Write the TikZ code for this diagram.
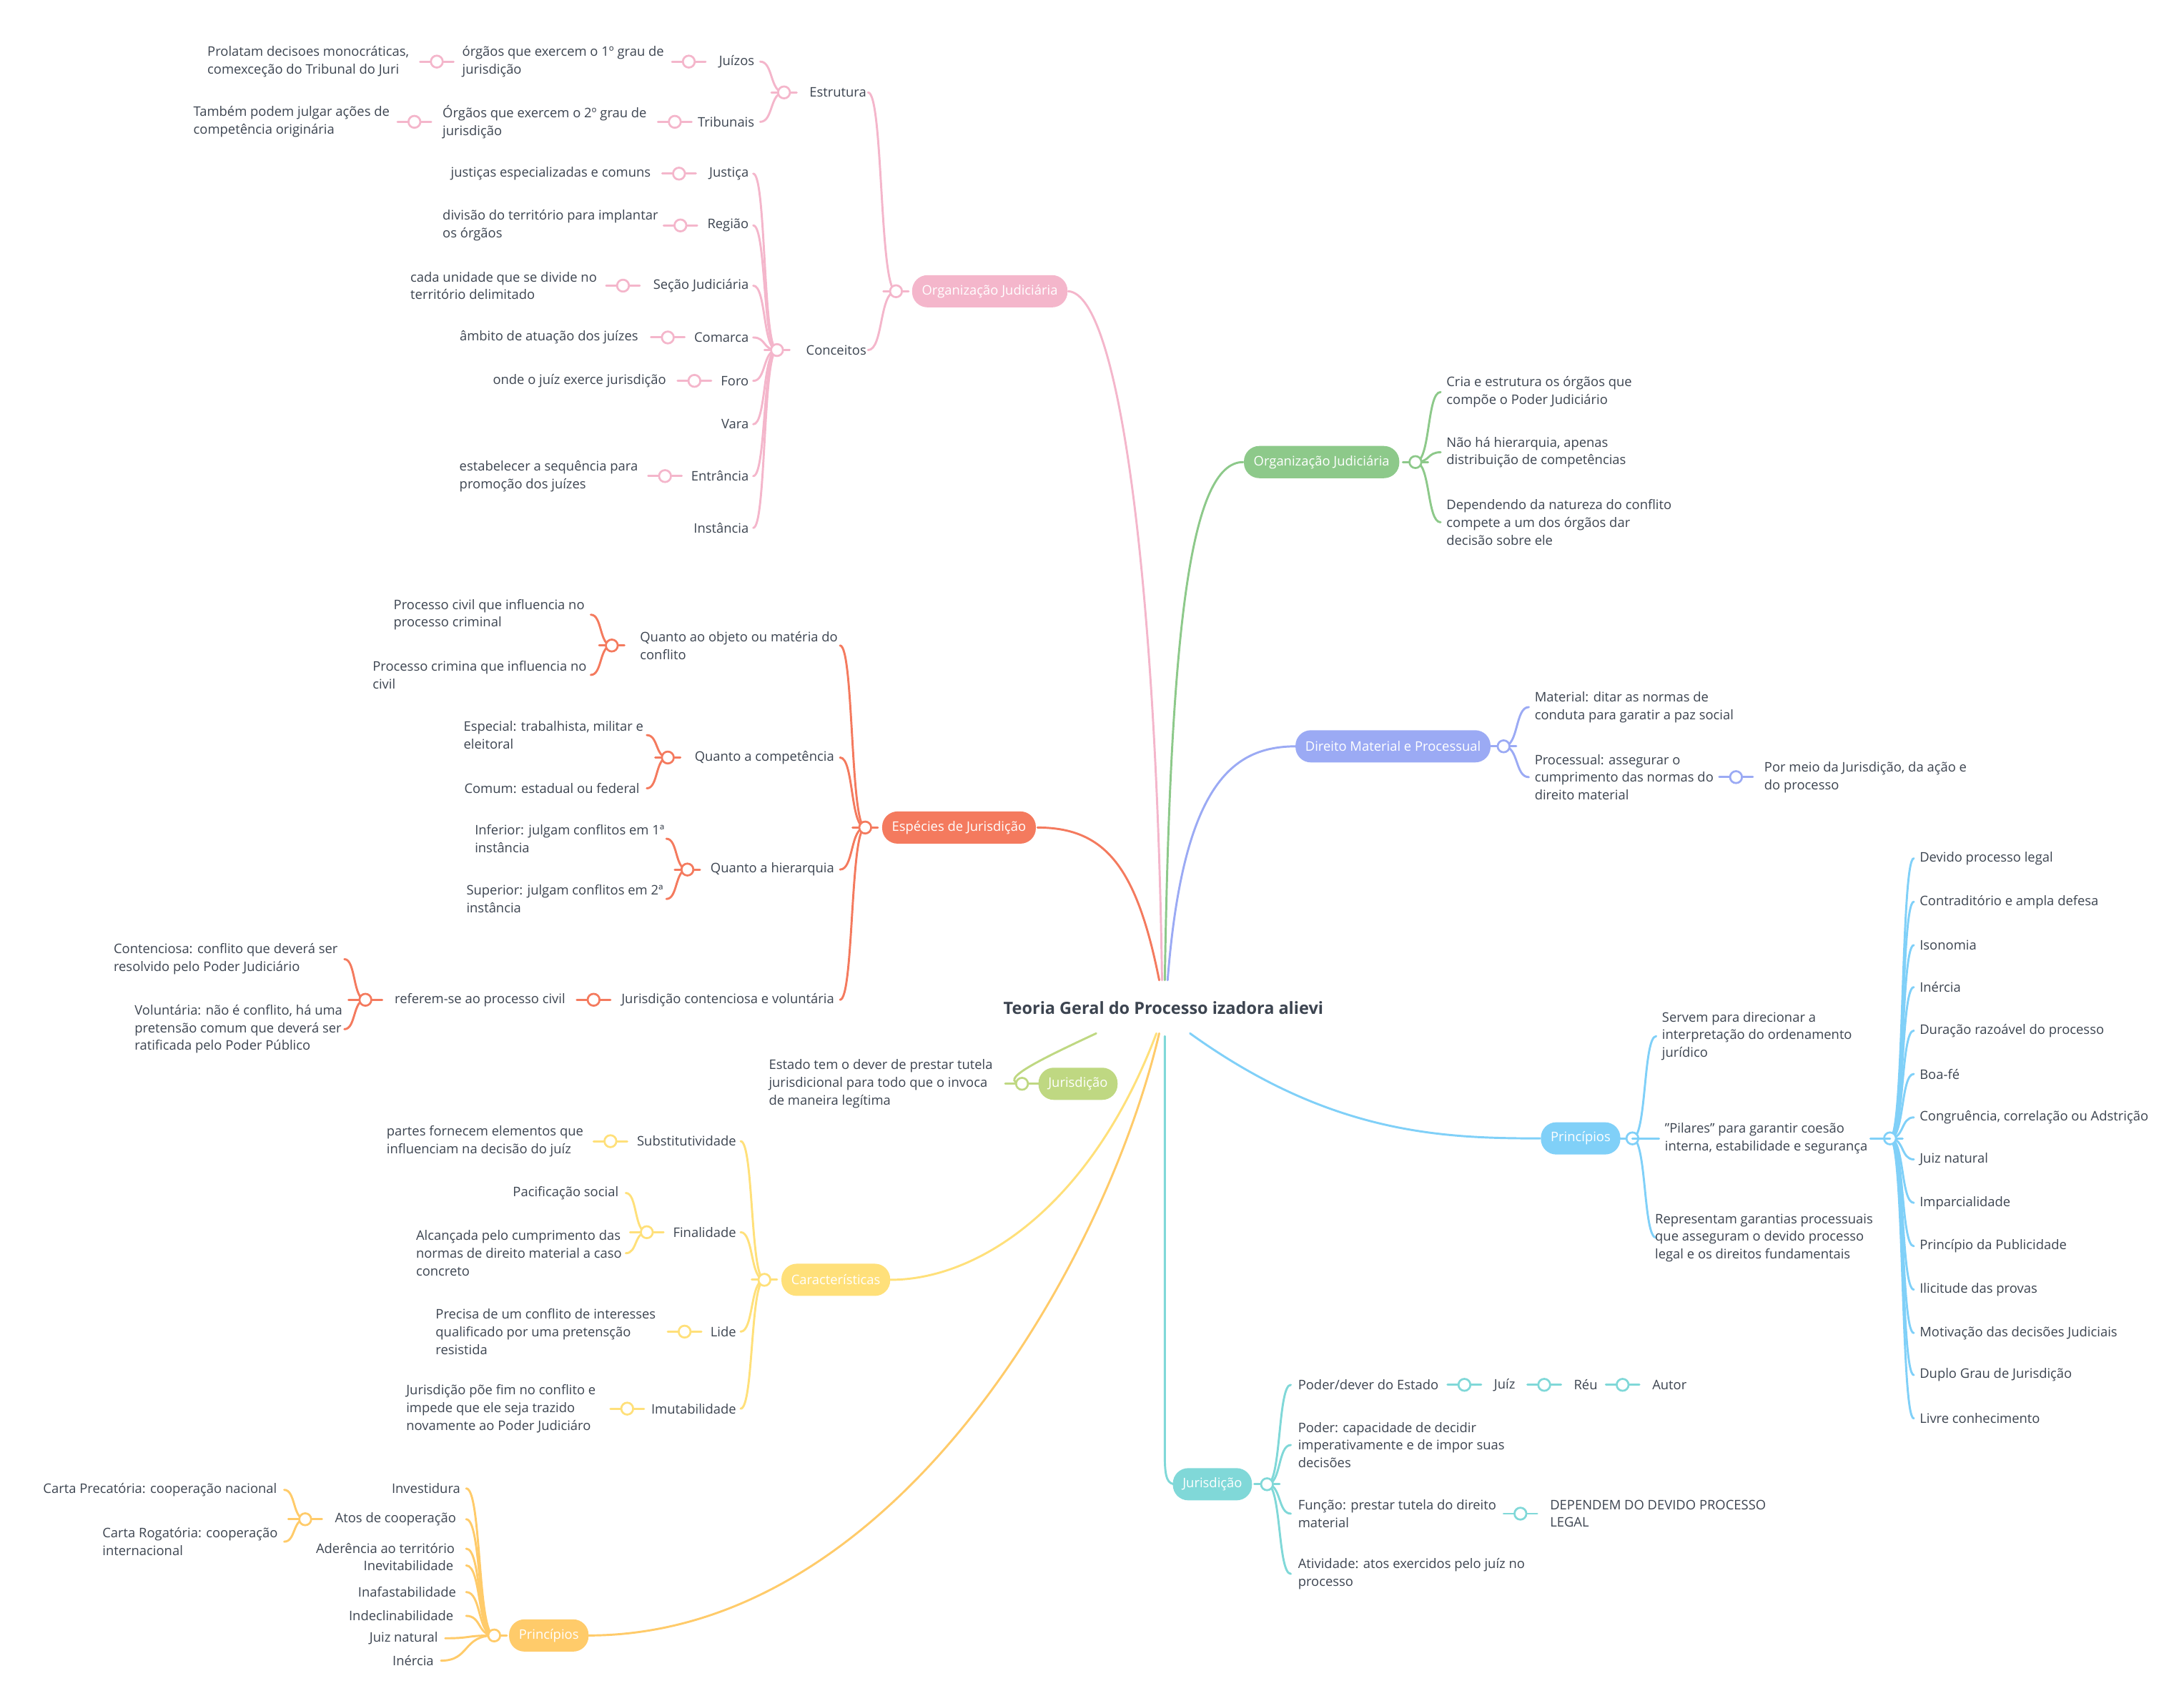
\documentclass[tikz,border=0pt]{standalone}
\usepackage{fontspec}
\setmainfont{Open Sans}
\definecolor{txtc}{HTML}{3C4450}
\definecolor{pinkc}{HTML}{F4B6CB}
\definecolor{greenc}{HTML}{8DC98A}
\definecolor{violetc}{HTML}{9BAAF4}
\definecolor{bluec}{HTML}{80D0F8}
\definecolor{tealc}{HTML}{80D8D8}
\definecolor{redc}{HTML}{F47A5E}
\definecolor{limec}{HTML}{BFD882}
\definecolor{yellowc}{HTML}{FFE07A}
\definecolor{orangec}{HTML}{FFCB6A}
\newcommand{\jc}[3]{\node[circle,draw=#1,fill=white,line width=1.4,inner sep=0,minimum size=8.5] at (#2,#3) {};}
\newcommand{\seg}[3]{\draw[#1,conn] (#2-12,#3)--(#2+12,#3); \jc{#1}{#2}{#3}}
\newcommand{\kid}[5]{\draw[#1,conn] (#2,#3) .. controls ({#2+(#4-#2)*0.6},#3) and ({#2+(#4-#2)*0.45},#5) .. (#4,#5);}
\newcommand{\junc}[3]{\draw[#1,conn] (#2-9,#3)--(#2+9,#3); \jc{#1}{#2}{#3}}
\begin{document}
\begin{tikzpicture}[x=1pt,y=-1pt,
  every node/.style={text=txtc,font=\fontsize{9.4}{12.6}\selectfont,inner sep=1pt},
  conn/.style={line width=1.5,line cap=round},
  lt/.style={anchor=west,align=left},
  rt/.style={anchor=east,align=right},
  pill/.style={rounded corners=11,minimum height=23,inner xsep=7,text=white,font=\fontsize{9.4}{11}\selectfont}]
\useasboundingbox (0,0) rectangle (1560,1218);
\node[font=\bfseries\fontsize{12}{14}\selectfont] (root) at (831,720) {Teoria Geral do Processo izadora alievi};
% ===== main connectors
\draw[pinkc,conn] (830,700) .. controls (826,420) and (800,210) .. (763,208);
\draw[greenc,conn] (832,700) .. controls (836,450) and (850,330) .. (888,330);
\draw[violetc,conn] (834,700) .. controls (845,560) and (880,533) .. (926,533);
\draw[redc,conn] (828,700) .. controls (812,620) and (790,591) .. (741,591);
\draw[bluec,conn] (850,738) .. controls (950,810) and (1030,813) .. (1100,813);
\draw[tealc,conn] (832,740) -- (832,1040) .. controls (832,1056) and (834,1060) .. (840,1060);
\draw[limec,conn] (783,738) .. controls (740,758) and (712,772) .. (730,774);
\draw[yellowc,conn] (826,738) .. controls (780,860) and (700,914) .. (636,914);
\draw[orangec,conn] (828,738) .. controls (790,900) and (640,1168) .. (420,1168);
% ===== PINK
\kid{pinkc}{640}{208}{620}{66}
\kid{pinkc}{640}{208}{620}{250}
\junc{pinkc}{640}{208}
\node[pill,fill=pinkc] (oj1) at (707,208) {Organização Judiciária};
\node[rt] (estr) at (620,66) {Estrutura};
\node[rt] (conc) at (620,250) {Conceitos};
\kid{pinkc}{560}{66}{543}{44}
\kid{pinkc}{560}{66}{543}{87}
\junc{pinkc}{560}{66}
\node[rt] (juizos) at (540,44) {Juízos};
\node[rt] (trib) at (540,87) {Tribunais};
\seg{pinkc}{492}{44}\seg{pinkc}{312}{44}
\seg{pinkc}{482}{87}\seg{pinkc}{296}{87}
\node[lt] at (329,44) {órgãos que exercem o 1º grau de\\jurisdição};
\node[lt] at (147,44) {Prolatam decisoes monocráticas,\\comexceção do Tribunal do Juri};
\node[lt] at (315,87) {Órgãos que exercem o 2º grau de\\jurisdição};
\node[lt] at (137,87) {Também podem julgar ações de\\competência originária};
\foreach \y in {124,161,204,241,272,303,340,377}{\kid{pinkc}{555}{250}{538}{\y}}
\junc{pinkc}{555}{250}
\node[rt] at (536,124) {Justiça};
\node[rt] at (536,161) {Região};
\node[rt] at (536,204) {Seção Judiciária};
\node[rt] at (536,241) {Comarca};
\node[rt] at (536,272) {Foro};
\node[rt] at (536,303) {Vara};
\node[rt] at (536,340) {Entrância};
\node[rt] at (536,377) {Instância};
\seg{pinkc}{485}{124}\node[rt] at (466,124) {justiças especializadas e comuns};
\seg{pinkc}{486}{161}\node[lt] at (315,161) {divisão do território para implantar\\os órgãos};
\seg{pinkc}{445}{204}\node[lt] at (292,204) {cada unidade que se divide no\\território delimitado};
\seg{pinkc}{477}{241}\node[rt] at (457,241) {âmbito de atuação dos juízes};
\seg{pinkc}{496}{272}\node[rt] at (477,272) {onde o juíz exerce jurisdição};
\seg{pinkc}{475}{340}\node[lt] at (327,340) {estabelecer a sequência para\\promoção dos juízes};
% ===== GREEN
\node[pill,fill=greenc] (oj2) at (944,330) {Organização Judiciária};
\kid{greenc}{1011}{330}{1029}{280}
\kid{greenc}{1011}{330}{1029}{323}
\kid{greenc}{1011}{330}{1029}{373}
\junc{greenc}{1011}{330}
\node[lt] at (1032,280) {Cria e estrutura os órgãos que\\compõe o Poder Judiciário};
\node[lt] at (1032,323) {Não há hierarquia, apenas\\distribuição de competências};
\node[lt] at (1032,373) {Dependendo da natureza do conflito\\compete a um dos órgãos dar\\decisão sobre ele};
% ===== VIOLET
\node[pill,fill=violetc] (dmp) at (995,533) {Direito Material e Processual};
\kid{violetc}{1074}{533}{1092}{505}
\kid{violetc}{1074}{533}{1092}{555}
\junc{violetc}{1074}{533}
\node[lt] at (1095,505) {Material: ditar as normas de\\conduta para garatir a paz social};
\node[lt] at (1095,555) {Processual: assegurar o\\cumprimento das normas do\\direito material};
\seg{violetc}{1240}{555}
\node[lt] at (1259,555) {Por meio da Jurisdição, da ação e\\do processo};
% ===== BLUE
\node[pill,fill=bluec] (pri1) at (1129,813) {Princípios};
\kid{bluec}{1166}{813}{1183}{740}
\kid{bluec}{1166}{813}{1183}{884}
\junc{bluec}{1166}{813}
\draw[bluec,conn] (1166,813)--(1185,813);
\node[lt] at (1186,740) {Servem para direcionar a\\interpretação do ordenamento\\jurídico};
\node[lt] at (1188,813) {"Pilares" para garantir coesão\\interna, estabilidade e segurança};
\node[lt] at (1181,884) {Representam garantias processuais\\que asseguram o devido processo\\legal e os direitos fundamentais};
\foreach \y in {613,644,675,705,736,767,798,828,859,890,921,952,982,1013}{\kid{bluec}{1350}{813}{1367}{\y}}
\junc{bluec}{1350}{813}
\draw[bluec,conn] (1336,813)--(1350,813);
\foreach \y/\t in {613/Devido processo legal,644/Contraditório e ampla defesa,675/Isonomia,705/Inércia,736/Duração razoável do processo,767/Boa-fé,798/{Congruência, correlação ou Adstrição},828/Juiz natural,859/Imparcialidade,890/Princípio da Publicidade,921/Ilicitude das provas,952/Motivação das decisões Judiciais,982/Duplo Grau de Jurisdição,1013/Livre conhecimento}{\node[lt] at (1370,\y) {\t};}
% ===== TEAL
\node[pill,fill=tealc] (jur1) at (866,1060) {Jurisdição};
\foreach \y in {989,1032,1081,1124}{\kid{tealc}{905}{1060}{922}{\y}}
\junc{tealc}{905}{1060}
\node[lt] at (926,989) {Poder/dever do Estado};
\seg{tealc}{1046}{989}\node[lt] at (1066,989) {Juíz};
\seg{tealc}{1103}{989}\node[lt] at (1123,989) {Réu};
\seg{tealc}{1159}{989}\node[lt] at (1179,989) {Autor};
\node[lt] at (926,1032) {Poder: capacidade de decidir\\imperativamente e de impor suas\\decisões};
\node[lt] at (926,1081) {Função: prestar tutela do direito\\material};
\seg{tealc}{1086}{1081}\node[lt] at (1106,1081) {DEPENDEM DO DEVIDO PROCESSO\\LEGAL};
\node[lt] at (926,1124) {Atividade: atos exercidos pelo juíz no\\processo};
% ===== RED
\node[pill,fill=redc] (esp) at (685,591) {Espécies de Jurisdição};
\foreach \y in {461,541,621,714}{\kid{redc}{618}{591}{600}{\y}}
\junc{redc}{618}{591}
\node[lt] at (456,461) {Quanto ao objeto ou matéria do\\conflito};
\node[rt] at (597,541) {Quanto a competência};
\node[rt] at (597,621) {Quanto a hierarquia};
\node[rt] at (597,714) {Jurisdição contenciosa e voluntária};
\kid{redc}{437}{461}{422}{439}\kid{redc}{437}{461}{422}{482}
\junc{redc}{437}{461}
\node[lt] at (280,439) {Processo civil que influencia no\\processo criminal};
\node[lt] at (265,482) {Processo crimina que influencia no\\civil};
\kid{redc}{477}{541}{462}{525}\kid{redc}{477}{541}{462}{563}
\junc{redc}{477}{541}
\node[lt] at (330,525) {Especial: trabalhista, militar e\\eleitoral};
\node[rt] at (458,563) {Comum: estadual ou federal};
\kid{redc}{491}{621}{476}{599}\kid{redc}{491}{621}{476}{642}
\junc{redc}{491}{621}
\node[lt] at (338,599) {Inferior: julgam conflitos em 1ª\\instância};
\node[lt] at (332,642) {Superior: julgam conflitos em 2ª\\instância};
\seg{redc}{424}{714}\node[rt] at (405,714) {referem-se ao processo civil};
\kid{redc}{261}{714}{246}{685}\kid{redc}{261}{714}{246}{735}
\seg{redc}{261}{714}
\node[lt] at (80,685) {Contenciosa: conflito que deverá ser\\resolvido pelo Poder Judiciário};
\node[lt] at (95,735) {Voluntária: não é conflito, há uma\\pretensão comum que deverá ser\\ratificada pelo Poder Público};
% ===== LIME
\node[pill,fill=limec] (jur2) at (770,774) {Jurisdição};
\seg{limec}{730}{774}
\node[lt] at (548,774) {Estado tem o dever de prestar tutela\\jurisdicional para todo que o invoca\\de maneira legítima};
% ===== YELLOW
\node[pill,fill=yellowc] (car) at (597,914) {Características};
\foreach \y in {815,880,951,1006}{\kid{yellowc}{546}{914}{529}{\y}}
\junc{yellowc}{546}{914}
\node[rt] at (527,815) {Substitutividade};
\node[rt] at (527,880) {Finalidade};
\node[rt] at (527,951) {Lide};
\node[rt] at (527,1006) {Imutabilidade};
\seg{yellowc}{436}{815}\node[lt] at (275,815) {partes fornecem elementos que\\influenciam na decisão do juíz};
\kid{yellowc}{462}{880}{447}{852}\kid{yellowc}{462}{880}{447}{895}
\seg{yellowc}{462}{880}
\node[rt] at (443,852) {Pacificação social};
\node[lt] at (296,895) {Alcançada pelo cumprimento das\\normas de direito material a caso\\concreto};
\seg{yellowc}{489}{951}\node[lt] at (310,951) {Precisa de um conflito de interesses\\qualificado por uma pretensção\\resistida};
\seg{yellowc}{448}{1006}\node[lt] at (289,1006) {Jurisdição põe fim no conflito e\\impede que ele seja trazido\\novamente ao Poder Judiciáro};
% ===== ORANGE
\node[pill,fill=orangec] (pri2) at (392,1168) {Princípios};
\foreach \y/\x in {1063/333,1085/333,1106/333,1118/333,1137/333,1154/333,1170/318,1186/315}{\kid{orangec}{353}{1168}{\x}{\y}}
\junc{orangec}{353}{1168}
\node[rt] at (330,1063) {Investidura};
\node[rt] at (327,1085) {Atos de cooperação};
\node[rt] at (326,1106) {Aderência ao território};
\node[rt] at (325,1118) {Inevitabilidade};
\node[rt] at (327,1137) {Inafastabilidade};
\node[rt] at (325,1154) {Indeclinabilidade};
\node[rt] at (314,1170) {Juiz natural};
\node[rt] at (311,1186) {Inércia};
\kid{orangec}{218}{1085}{203}{1064}\kid{orangec}{218}{1085}{203}{1101}
\seg{orangec}{218}{1085}
\node[rt] at (199,1064) {Carta Precatória: cooperação nacional};
\node[lt] at (72,1101) {Carta Rogatória: cooperação\\internacional};
\end{tikzpicture}
\end{document}
